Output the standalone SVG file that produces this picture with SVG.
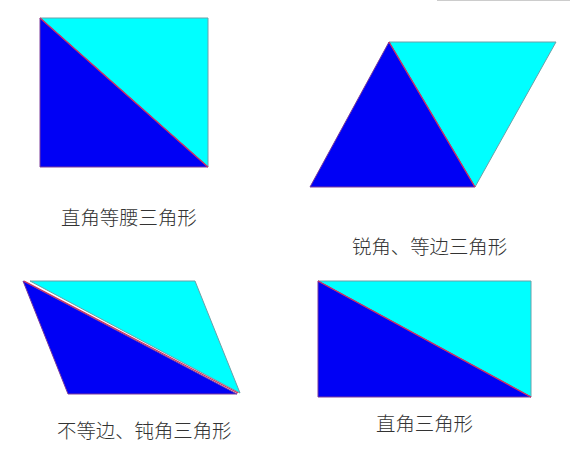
<svg xmlns="http://www.w3.org/2000/svg" width="570" height="449" viewBox="0 0 570 449">
<style>
.blue{fill:#0000F5;stroke:#7a3a9a;stroke-width:1}
.cyan{fill:#00FFFF;stroke:#6aa0a8;stroke-width:1}
.diag{stroke:#d03060;stroke-width:1.3;fill:none}
.lbl{font-family:"Noto Sans CJK SC","Noto Sans",sans-serif;font-size:19.4px;font-weight:300;fill:#333}
</style>
<rect width="570" height="449" fill="#fff"/>
<line x1="437" y1="0.5" x2="570" y2="0.5" stroke="#ccc" stroke-width="1"/>
<g id="shape1">
<polygon class="cyan" points="40,18 208,18 208,167"/>
<polygon class="blue" points="40,18 40,167 208,167"/>
<line class="diag" x1="40" y1="18" x2="208" y2="167"/>
<text class="lbl" x="61" y="225">直角等腰三角形</text>
</g>
<g id="shape2">
<polygon class="cyan" points="389,42 556,42 475,187"/>
<polygon class="blue" points="389,42 310,187 475,187"/>
<line class="diag" x1="389" y1="42" x2="475" y2="187"/>
<text class="lbl" x="352" y="254">锐角、等边三角形</text>
</g>
<g id="shape3">
<polygon class="cyan" points="30,281 195,281 240,393"/>
<polygon class="blue" points="23,281 68,394 237,394"/>
<line class="diag" x1="24" y1="281" x2="238" y2="393"/>
<text class="lbl" x="57" y="438">不等边、钝角三角形</text>
</g>
<g id="shape4">
<polygon class="cyan" points="318,281 531,281 531,397"/>
<polygon class="blue" points="318,281 318,397 531,397"/>
<line class="diag" x1="318" y1="281" x2="531" y2="397"/>
<text class="lbl" x="376" y="431">直角三角形</text>
</g>
<g id="connectors"></g>
</svg>
